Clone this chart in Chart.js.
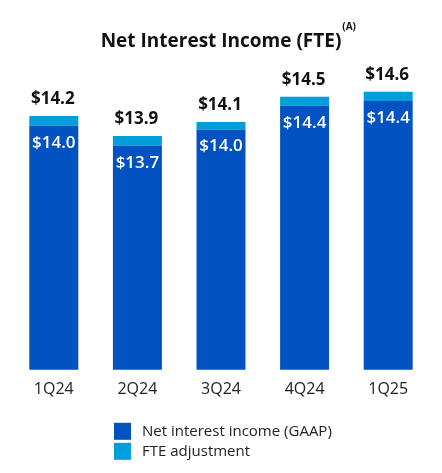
<!DOCTYPE html>
<html>
<head>
<meta charset="utf-8">
<script src="https://cdn.jsdelivr.net/npm/chart.js@4.4.1/dist/chart.umd.min.js"></script>
<style>
  html, body { margin: 0; padding: 0; background: #fff; }
  #wrap { width: 442px; height: 473px; position: relative; }
</style>
</head>
<body>
<div id="wrap"><canvas id="nii"></canvas></div>
<script>
const quarters = ["1Q24", "2Q24", "3Q24", "4Q24", "1Q25"];
const gaapNII = [14.03, 13.70, 13.97, 14.36, 14.44];
const fteAdj = [0.16, 0.16, 0.12, 0.15, 0.15];
const seriesNames = ["Net interest income (GAAP)", "FTE adjustment"];

const darkBlue = "#0352c2";
const lightBlue = "#029ddb";
const FONT = "'Open Sans', 'Noto Sans', sans-serif";

function money(v) {
  return "$" + v.toFixed(1);
}

// title, bar labels and the stacked legend are drawn here
const extras = {
  id: "extras",
  afterDraw(chart) {
    const ctx = chart.ctx;
    const area = chart.chartArea;
    const gaapBars = chart.getDatasetMeta(0).data;
    const fteBars = chart.getDatasetMeta(1).data;

    ctx.save();
    // title
    ctx.fillStyle = "#111";
    ctx.textBaseline = "alphabetic";
    ctx.font = "bold 19px " + FONT;
    let title = "Net Interest Income (FTE)";
    let tw = ctx.measureText(title).width;
    let tx = 221 - tw / 2;
    ctx.textAlign = "left";
    ctx.fillText(title, tx, 47);
    ctx.font = "bold 10px " + FONT;
    ctx.fillText("(A)", tx + tw + 1, 30);

    // values
    ctx.textAlign = "center";
    ctx.textBaseline = "middle";
    for (let i = 0; i < quarters.length; i++) {
      let total = gaapNII[i] + fteAdj[i];
      ctx.font = "bold 17px " + FONT;
      ctx.fillStyle = "#111";
      ctx.fillText(money(total), fteBars[i].x - 1, fteBars[i].y - 17);
      ctx.font = "600 17px " + FONT;
      ctx.fillStyle = "#fff";
      ctx.fillText(money(gaapNII[i]), gaapBars[i].x, gaapBars[i].y + 17);
    }

    // legend
    let lx = 114, ly = area.bottom + 53;
    ctx.textAlign = "left";
    ctx.font = "15px " + FONT;
    chart.data.datasets.forEach((ds, k) => {
      let y = ly + k * 20;
      ctx.fillStyle = ds.backgroundColor;
      ctx.fillRect(lx, y, 17, 17);
      ctx.fillStyle = "#222";
      ctx.fillText(ds.label, lx + 28, y + 9);
    });
    ctx.restore();
  }
};

new Chart(document.getElementById("nii"), {
  type: "bar",
  data: {
    labels: quarters,
    datasets: [
      { label: seriesNames[0], data: gaapNII, backgroundColor: darkBlue },
      { label: seriesNames[1], data: fteAdj, backgroundColor: lightBlue }
    ]
  },
  options: {
    responsive: true,
    maintainAspectRatio: false,
    animation: false,
    devicePixelRatio: 1,
    categoryPercentage: 1,
    barPercentage: 0.586,
    layout: { padding: { top: 67, left: 12, right: 12, bottom: 64 } },
    plugins: {
      legend: { display: false },
      tooltip: { enabled: false }
    },
    scales: {
      x: {
        stacked: true,
        grid: { display: false, drawTicks: false },
        border: { display: false },
        ticks: { color: "#222", font: { family: FONT, size: 16 }, padding: 10 }
      },
      y: {
        stacked: true,
        display: false,
        min: 10,
        max: 15
      }
    }
  },
  plugins: [extras]
});
</script>
</body>
</html>
